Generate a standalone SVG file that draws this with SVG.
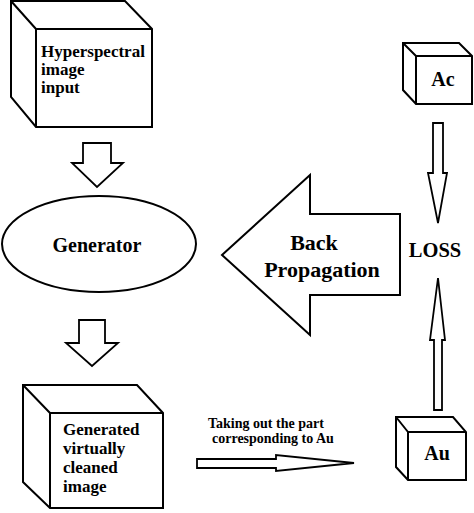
<svg xmlns="http://www.w3.org/2000/svg" width="474" height="513" viewBox="0 0 474 513">
<style>
.ln{fill:#fff;stroke:#000;stroke-width:2;stroke-linejoin:miter}
.in{fill:none;stroke:#000;stroke-width:2}
.ar{fill:#fff;stroke:#000;stroke-width:1.8;stroke-linejoin:miter}
.t{font-family:'Liberation Serif','Times New Roman','DejaVu Serif',serif;font-weight:bold;fill:#000}
</style>
<rect width="474" height="513" fill="#fff"/>
<g id="input">
<path class="ln" d="M11,1 L125,1 L152,29 L152,127 L36,127 L11,97 Z"/>
<path class="in" d="M11,1 L36,29 M36,29 L152,29 M36,29 L36,127"/>
<text class="t" font-family="Liberation Serif, serif" font-size="17"><tspan x="41" y="57">Hyperspectral</tspan><tspan x="41" y="75">image</tspan><tspan x="41" y="93">input</tspan></text>
</g>
<g id="generator">
<ellipse class="ln" cx="99" cy="244" rx="97" ry="48"/>
<text class="t" font-family="Liberation Serif, serif" x="97" y="252" font-size="20" text-anchor="middle">Generator</text>
</g>
<g id="output">
<path class="ln" d="M23,385 L137,385 L163,413 L163,508 L50,508 L23,482 Z"/>
<path class="in" d="M23,385 L50,413 M50,413 L163,413 M50,413 L50,508"/>
<text class="t" font-family="Liberation Serif, serif" font-size="17"><tspan x="63" y="435">Generated</tspan><tspan x="63" y="454">virtually</tspan><tspan x="63" y="473">cleaned</tspan><tspan x="63" y="492">image</tspan></text>
</g>
<g id="ac">
<path class="ln" d="M403,43 L459,43 L472,56 L472,104 L416,104 L403,90 Z"/>
<path class="in" d="M403,43 L416,56 M416,56 L472,56 M416,56 L416,104"/>
<text class="t" font-family="Liberation Serif, serif" x="443" y="86" font-size="20" text-anchor="middle">Ac</text>
</g>
<g id="au">
<path class="ln" d="M396,417 L453,417 L466,432 L466,480 L408,480 L396,467 Z"/>
<path class="in" d="M396,417 L408,432 M408,432 L466,432 M408,432 L408,480"/>
<text class="t" font-family="Liberation Serif, serif" x="437" y="460" font-size="20" text-anchor="middle">Au</text>
</g>
<g id="loss">
<text class="t" font-family="Liberation Serif, serif" x="435" y="257" font-size="20.5" text-anchor="middle">LOSS</text>
</g>
<g id="backprop">
<path class="ln" d="M222,255 L310,175 L310,214 L400,214 L400,295 L310,295 L310,335 Z"/>
<text class="t" font-family="Liberation Serif, serif" font-size="22" text-anchor="middle"><tspan x="314" y="250">Back</tspan><tspan x="322" y="277">Propagation</tspan></text>
</g>
<g id="connectors">
<path class="ar" d="M83,143 L111,143 L111,163 L123,163 L97,187 L72,163 L83,163 Z"/>
<path class="ar" d="M79,320 L105,320 L105,343 L118,343 L92,366 L66,343 L79,343 Z"/>
<path class="ar" d="M433,123 L443,123 L443,173 L447,173 L438,223 L428,173 L433,173 Z"/>
<path class="ar" d="M434,410 L442,410 L442,340 L445,340 L438,278 L430,340 L434,340 Z"/>
<path class="ar" d="M197,459 L276,459 L276,455 L354,463 L276,471 L276,468 L197,468 Z"/>
<text class="t" font-family="Liberation Serif, serif" font-size="14"><tspan x="208" y="428">Taking out the part</tspan><tspan x="212" y="443">corresponding to Au</tspan></text>
</g>
</svg>
